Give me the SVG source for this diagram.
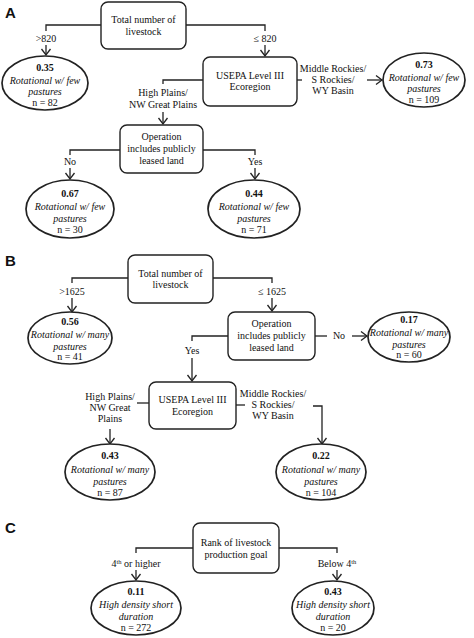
<svg xmlns="http://www.w3.org/2000/svg" width="474" height="638" viewBox="0 0 474 638">
<defs>
<marker id="arr" markerUnits="userSpaceOnUse" markerWidth="12" markerHeight="12" refX="0" refY="0" orient="auto" overflow="visible" viewBox="-8 -6 10 12">
<path d="M-6,-4.5 L0,0 L-6,4.5" fill="none" stroke="#222" stroke-width="1.3"/>
</marker>
<style>
text{font-family:"Liberation Serif","Times New Roman",serif;font-size:10px;fill:#111;text-anchor:middle}
.b{font-weight:bold}
.i{font-style:italic}
.p{font-family:"Liberation Sans",Arial,sans-serif;font-weight:bold;font-size:15px;text-anchor:start}
.box{fill:#fff;stroke:#222;stroke-width:1.4}
.ell{fill:#fff;stroke:#222;stroke-width:1.7}
.c{fill:none;stroke:#222;stroke-width:1.3}
.a{marker-end:url(#arr)}
.s{font-size:6.5px}
</style>
</defs>
<rect width="474" height="638" fill="#fff"/>
<text class="p" x="5" y="18">A</text>
<text class="p" x="5" y="266">B</text>
<text class="p" x="5" y="533">C</text>

<g id="connectors">
<!-- A -->
<path class="c" d="M101,25 H46 V31"/>
<path class="c a" d="M46,45 V55"/>
<path class="c" d="M186,25 H265 V31"/>
<path class="c a" d="M265,45 V56"/>
<path class="c" d="M203,80 H163 V84"/>
<path class="c a" d="M163,112 V124"/>
<path class="c" d="M297,80 H302"/>
<path class="c a" d="M367,80 H382"/>
<path class="c" d="M120,150 H70 V155"/>
<path class="c a" d="M70,168 V179"/>
<path class="c" d="M203,150 H255 V155"/>
<path class="c a" d="M255,168 V179"/>
<!-- B -->
<path class="c" d="M128,278 H72 V283"/>
<path class="c a" d="M72,298 V312"/>
<path class="c" d="M213,278 H272 V283"/>
<path class="c a" d="M272,298 V311"/>
<path class="c" d="M315,336 H327"/>
<path class="c a" d="M352,336 H367"/>
<path class="c" d="M228,336 H192 V341"/>
<path class="c a" d="M192,358 V381"/>
<path class="c" d="M149,403 H137"/>
<path class="c a" d="M110,429 V444"/>
<path class="c" d="M236,405 H245"/>
<path class="c a" d="M313,406 H322 V444"/>
<!-- C -->
<path class="c" d="M193,548 H136 V553"/>
<path class="c a" d="M136,570 V580"/>
<path class="c" d="M279,548 H337 V553"/>
<path class="c a" d="M337,570 V580"/>
</g>

<g id="labels">
<text x="46" y="42">&gt;820</text>
<text x="265" y="42">≤ 820</text>
<text x="163" y="96">High Plains/</text>
<text x="163" y="108">NW Great Plains</text>
<text x="333" y="72">Middle Rockies/</text>
<text x="333" y="83">S Rockies/</text>
<text x="333" y="94">WY Basin</text>
<text x="70" y="165">No</text>
<text x="255" y="165">Yes</text>

<text x="72" y="295">&gt;1625</text>
<text x="272" y="295">≤ 1625</text>
<text x="339" y="339">No</text>
<text x="192" y="354">Yes</text>
<text x="110" y="400">High Plains/</text>
<text x="110" y="411">NW Great</text>
<text x="110" y="422">Plains</text>
<text x="273" y="397">Middle Rockies/</text>
<text x="273" y="408">S Rockies/</text>
<text x="273" y="419">WY Basin</text>

<text x="136" y="567">4<tspan class="s" dy="-3.5">th</tspan><tspan dy="3.5"> or higher</tspan></text>
<text x="337" y="567">Below 4<tspan class="s" dy="-3.5">th</tspan></text>
</g>

<!-- Panel A nodes -->
<g id="A-root">
<rect class="box" x="101" y="2" width="85" height="47" rx="7"/>
<text x="143.5" y="23">Total number of</text>
<text x="143.5" y="35">livestock</text>
</g>
<g id="A-leaf1">
<ellipse class="ell" cx="45" cy="83" rx="43" ry="27"/>
<text class="b" x="45" y="71">0.35</text>
<text class="i" x="45" y="84">Rotational w/ few</text>
<text class="i" x="45" y="95">pastures</text>
<text x="45" y="106">n = 82</text>
</g>
<g id="A-eco">
<rect class="box" x="203" y="57" width="94" height="49" rx="7"/>
<text x="250" y="79">USEPA Level III</text>
<text x="250" y="90">Ecoregion</text>
</g>
<g id="A-leaf2">
<ellipse class="ell" cx="424" cy="80" rx="41" ry="27"/>
<text class="b" x="424" y="68">0.73</text>
<text class="i" x="424" y="81">Rotational w/ few</text>
<text class="i" x="424" y="92">pastures</text>
<text x="424" y="103">n = 109</text>
</g>
<g id="A-op">
<rect class="box" x="120" y="125" width="83" height="48" rx="7"/>
<text x="161.5" y="140">Operation</text>
<text x="161.5" y="152">includes publicly</text>
<text x="161.5" y="164">leased land</text>
</g>
<g id="A-leaf3">
<ellipse class="ell" cx="70" cy="209" rx="44" ry="29"/>
<text class="b" x="70" y="197">0.67</text>
<text class="i" x="70" y="210">Rotational w/ few</text>
<text class="i" x="70" y="222">pastures</text>
<text x="70" y="233">n = 30</text>
</g>
<g id="A-leaf4">
<ellipse class="ell" cx="254" cy="209" rx="46" ry="29"/>
<text class="b" x="254" y="197">0.44</text>
<text class="i" x="254" y="210">Rotational w/ few</text>
<text class="i" x="254" y="222">pastures</text>
<text x="254" y="233">n = 71</text>
</g>

<!-- Panel B nodes -->
<g id="B-root">
<rect class="box" x="128" y="255" width="85" height="48" rx="7"/>
<text x="170.5" y="277">Total number of</text>
<text x="170.5" y="288">livestock</text>
</g>
<g id="B-leaf1">
<ellipse class="ell" cx="70" cy="338" rx="42" ry="26"/>
<text class="b" x="70" y="325">0.56</text>
<text class="i" x="70" y="338">Rotational w/ many</text>
<text class="i" x="70" y="350">pastures</text>
<text x="70" y="360">n = 41</text>
</g>
<g id="B-op">
<rect class="box" x="228" y="312" width="87" height="48" rx="7"/>
<text x="271.5" y="327">Operation</text>
<text x="271.5" y="339">includes publicly</text>
<text x="271.5" y="351">leased land</text>
</g>
<g id="B-leaf2">
<ellipse class="ell" cx="409" cy="337" rx="41" ry="25"/>
<text class="b" x="409" y="323">0.17</text>
<text class="i" x="409" y="336">Rotational w/ many</text>
<text class="i" x="409" y="348">pastures</text>
<text x="409" y="358">n = 60</text>
</g>
<g id="B-eco">
<rect class="box" x="149" y="382" width="87" height="47" rx="7"/>
<text x="192.5" y="403">USEPA Level III</text>
<text x="192.5" y="415">Ecoregion</text>
</g>
<g id="B-leaf3">
<ellipse class="ell" cx="110" cy="472" rx="45" ry="28"/>
<text class="b" x="110" y="459">0.43</text>
<text class="i" x="110" y="473">Rotational w/ many</text>
<text class="i" x="110" y="485">pastures</text>
<text x="110" y="496">n = 87</text>
</g>
<g id="B-leaf4">
<ellipse class="ell" cx="321" cy="472" rx="45" ry="28"/>
<text class="b" x="321" y="459">0.22</text>
<text class="i" x="321" y="473">Rotational w/ many</text>
<text class="i" x="321" y="485">pastures</text>
<text x="321" y="496">n = 104</text>
</g>

<!-- Panel C nodes -->
<g id="C-root">
<rect class="box" x="193" y="523" width="86" height="50" rx="7"/>
<text x="236" y="546">Rank of livestock</text>
<text x="236" y="558">production goal</text>
</g>
<g id="C-leaf1">
<ellipse class="ell" cx="136" cy="608" rx="45" ry="27"/>
<text class="b" x="136" y="595">0.11</text>
<text class="i" x="136" y="608">High density short</text>
<text class="i" x="136" y="620">duration</text>
<text x="136" y="631">n = 272</text>
</g>
<g id="C-leaf2">
<ellipse class="ell" cx="333" cy="608" rx="41" ry="27"/>
<text class="b" x="333" y="595">0.43</text>
<text class="i" x="333" y="608">High density short</text>
<text class="i" x="333" y="620">duration</text>
<text x="333" y="631">n = 20</text>
</g>
</svg>
